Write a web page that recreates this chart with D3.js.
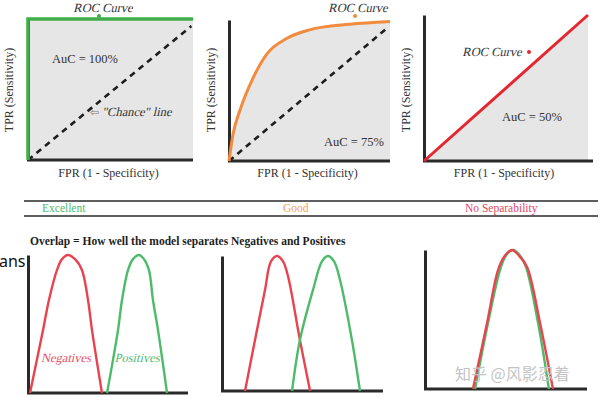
<!DOCTYPE html>
<html>
<head>
<meta charset="utf-8">
<script src="https://cdn.jsdelivr.net/npm/d3@7"></script>
<style>
  html, body { margin: 0; padding: 0; background: #fff; }
  svg { display: block; }
</style>
</head>
<body>
<svg id="chart" width="600" height="397"></svg>
<script>
// ---- data (x = FPR / score, y = TPR / density, both 0..1) ----
const rocCategories = ['Excellent', 'Good', 'No Separability']
const rocAucLabels = ['AuC = 100%', 'AuC = 75%', 'AuC = 50%']
const rocExcellent = [[0, 0], [0, 1], [1, 1]]
const rocGood = [[0, 0], [0.025, 0.19], [0.068, 0.36], [0.15, 0.59], [0.236, 0.76], [0.36, 0.87], [0.5, 0.93], [0.75, 0.97], [1, 0.99]]
const rocNone = [[0, 0], [1, 1]]
const chanceLine = [[0, 0], [0.99, 0.95]]

const negativesSeparated = [[0.0125, 0], [0.094, 0.456], [0.131, 0.674], [0.181, 0.89], [0.2125, 0.97], [0.25, 1], [0.294, 0.97], [0.3375, 0.89], [0.375, 0.674], [0.4, 0.456], [0.4625, 0]]
const positivesSeparated = [[0.494, 0], [0.5625, 0.456], [0.5875, 0.674], [0.625, 0.89], [0.656, 0.97], [0.694, 1], [0.725, 0.97], [0.756, 0.89], [0.781, 0.674], [0.8125, 0.456], [0.869, 0]]
const negativesOverlap = [[0.143, 0], [0.205, 0.378], [0.267, 0.748], [0.304, 0.96], [0.342, 1], [0.379, 0.96], [0.41, 0.85], [0.484, 0.378], [0.547, 0]]
const positivesOverlap = [[0.435, 0], [0.484, 0.378], [0.565, 0.748], [0.621, 0.96], [0.658, 1], [0.696, 0.96], [0.733, 0.822], [0.807, 0.378], [0.857, 0]]
const negativesSame = [[0.296, 0], [0.383, 0.475], [0.451, 0.856], [0.494, 0.96], [0.537, 1], [0.58, 0.96], [0.63, 0.878], [0.71, 0.475], [0.79, 0]]
const positivesSame = [[0.309, 0], [0.389, 0.475], [0.463, 0.856], [0.5, 0.96], [0.543, 1], [0.586, 0.96], [0.623, 0.878], [0.698, 0.475], [0.765, 0]]

const SERIF = '"Liberation Serif", "Times New Roman", "DejaVu Serif", serif'
const COLORS = {
  green: '#3fae4a', orange: '#f28b3e', red: '#e3262f',
  distRed: '#e8434f', distGreen: '#4dbb6a',
  fill: '#e6e6e6', axis: '#2a2a2a', text: '#333'
}

const rocLayout = [
  { left: 28, right: 193, top: 19, bottom: 160, tpr: 9 },
  { left: 229, right: 390, top: 20, bottom: 161, tpr: 211 },
  { left: 424, right: 588, top: 15, bottom: 161, tpr: 406 }
]
const distLayout = [
  { left: 28, right: 188, top: 255, bottom: 393 },
  { left: 222, right: 383, top: 256, bottom: 391 },
  { left: 425, right: 587, top: 250, bottom: 389 }
]

const svg = d3.select('#chart')

function scales(l) {
  return {
    x: d3.scaleLinear().domain([0, 1]).range([l.left, l.right]),
    y: d3.scaleLinear().domain([0, 1]).range([l.bottom, l.top])
  }
}

function serifText(x, y, size, color, str, italic) {
  // the serif family has no italic face here, so slant the upright one
  const t = svg.append('text')
    .attr('font-family', SERIF).attr('font-size', size)
    .attr('fill', color).text(str)
  if (italic) {
    t.attr('transform', 'translate(' + x + ',' + y + ') skewX(-13)')
  } else {
    t.attr('x', x).attr('y', y)
  }
  return t
}

function drawAxes(g, x, y, extra) {
  g.append('g')
    .attr('transform', 'translate(0,' + y(0) + ')')
    .call(d3.axisBottom(x).ticks(0).tickSizeOuter(0))
    .call(a => a.select('.domain').attr('stroke', COLORS.axis).attr('stroke-width', 3)
      .attr('d', 'M' + (x(0) - 1) + ',0H' + (x(1) + (extra || 0))))
  g.append('g')
    .attr('transform', 'translate(' + x(0) + ',0)')
    .call(d3.axisLeft(y).ticks(0).tickSizeOuter(0))
    .call(a => a.select('.domain').attr('stroke', COLORS.axis).attr('stroke-width', 3))
}

// ---- ROC panels ----
const rocSeries = [rocExcellent, rocGood, rocNone]
const rocColors = [COLORS.green, COLORS.orange, COLORS.red]

rocSeries.forEach((data, i) => {
  const l = rocLayout[i]
  const { x, y } = scales(l)
  const g = svg.append('g').attr('class', 'roc')

  const area = d3.area().x(d => x(d[0])).y0(y(0)).y1(d => y(d[1])).curve(d3.curveMonotoneX)
  if (i === 0) {
    g.append('rect').attr('x', x(0)).attr('y', y(1)).attr('width', x(1) - x(0)).attr('height', y(0) - y(1))
      .attr('fill', COLORS.fill)
  } else {
    g.append('path').datum(data).attr('d', area).attr('fill', COLORS.fill)
  }

  if (i < 2) {
    g.append('path').datum(chanceLine)
      .attr('d', d3.line().x(d => x(d[0])).y(d => y(d[1])))
      .attr('fill', 'none').attr('stroke', '#1e1e1e').attr('stroke-width', 2.6)
      .attr('stroke-dasharray', '6,5')
  }

  drawAxes(g, x, y, i === 2 ? 5 : 0)

  const line = i === 1
    ? d3.line().x(d => x(d[0])).y(d => y(d[1])).curve(d3.curveMonotoneX)
    : d3.line().x(d => x(d[0])).y(d => y(d[1]))
  g.append('path').datum(data).attr('d', line)
    .attr('fill', 'none').attr('stroke', rocColors[i]).attr('stroke-width', i === 0 ? 3.5 : 3)

  serifText((l.left + l.right) / 2 - 2, 177, 12, COLORS.text, 'FPR (1 - Specificity)')
    .attr('text-anchor', 'middle')
  svg.append('text')
    .attr('transform', 'translate(' + (l.tpr + 4) + ',' + 90 + ') rotate(-90)')
    .attr('text-anchor', 'middle').attr('font-family', SERIF).attr('font-size', 12)
    .attr('fill', COLORS.text).text('TPR (Sensitivity)')
})

// ROC annotations
const annotations = [
  { text: 'ROC Curve', x: 103, y: 12, italic: true, dot: [99, 16] },
  { text: rocAucLabels[0], x: 85, y: 63 },
  { text: 'ROC Curve', x: 358, y: 12, italic: true, dot: [355, 16] },
  { text: rocAucLabels[1], x: 354, y: 146 },
  { text: 'ROC Curve', x: 492, y: 56, italic: true, dot: [529, 52] },
  { text: rocAucLabels[2], x: 532, y: 121 }
]
annotations.forEach((a, i) => {
  serifText(a.x, a.y, 12.5, COLORS.text, a.text, a.italic)
    .attr('text-anchor', 'middle')
  if (a.dot) {
    svg.append('circle').attr('cx', a.dot[0]).attr('cy', a.dot[1]).attr('r', 2)
      .attr('fill', rocColors[Math.floor(i / 2)])
  }
})
svg.append('text')
  .attr('x', 90).attr('y', 116).attr('font-family', 'DejaVu Sans').attr('font-size', 11)
  .attr('fill', '#777').text('\u21e6')
serifText(102, 116, 12.5, COLORS.text, '"Chance" line', true)

// ---- separator band ----
svg.append('line').attr('x1', 24).attr('x2', 598).attr('y1', 201).attr('y2', 201)
  .attr('stroke', '#2a2a2a').attr('stroke-width', 1.6)
svg.append('line').attr('x1', 24).attr('x2', 598).attr('y1', 216).attr('y2', 216)
  .attr('stroke', '#2a2a2a').attr('stroke-width', 1.6)
const bandX = [42, 283, 465]
const bandColors = ['#4dbb6a', '#f5a05a', '#e5475e']
rocCategories.forEach((c, i) => {
  serifText(bandX[i], 212, 11.5, bandColors[i], c)
})

// ---- overlap panels ----
serifText(30, 245, 11.5, '#1e1e1e', 'Overlap = How well the model separates Negatives and Positives')
  .attr('font-weight', 'bold')
svg.append('text')
  .attr('x', -1).attr('y', 267).attr('font-family', '"Noto Sans", sans-serif').attr('font-size', 16)
  .attr('fill', '#111').text('ans')

const distSeries = [
  [negativesSeparated, positivesSeparated],
  [negativesOverlap, positivesOverlap],
  [negativesSame, positivesSame]
]

distSeries.forEach((pair, i) => {
  const { x, y } = scales(distLayout[i])
  const g = svg.append('g').attr('class', 'dist')
  drawAxes(g, x, y, 0)
  const line = d3.line().x(d => x(d[0])).y(d => y(d[1])).curve(d3.curveCatmullRom.alpha(0.5))
  const order = i === 2 ? [1, 0] : [0, 1]
  order.forEach(k => {
    g.append('path').datum(pair[k]).attr('d', line)
      .attr('fill', 'none').attr('stroke', k === 0 ? COLORS.distRed : COLORS.distGreen)
      .attr('stroke-width', 2.4)
  })
})

serifText(66, 362, 12.5, '#e8506a', 'Negatives', true).attr('text-anchor', 'middle')
serifText(137, 362, 12.5, '#55bb77', 'Positives', true).attr('text-anchor', 'middle')

svg.append('text')
  .attr('x', 455).attr('y', 380).attr('font-family', '"Noto Sans CJK SC", sans-serif').attr('font-size', 16)
  .attr('fill', '#c4c4c4').text('知乎 @风影忍着')
</script>
</body>
</html>
